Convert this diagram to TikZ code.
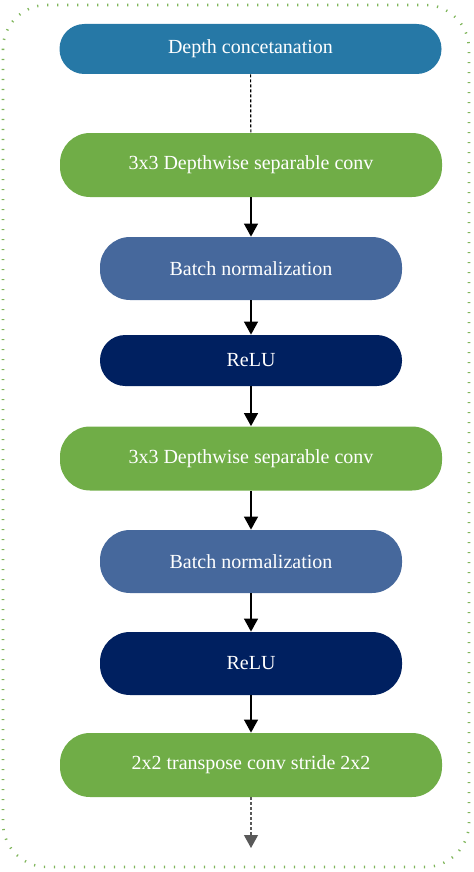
\documentclass[tikz,border=0pt]{standalone}
\usepackage{fontspec}
\setmainfont{Liberation Serif}
\usepackage{xcolor}
\usetikzlibrary{arrows.meta}
\definecolor{catblue}{HTML}{2678A6}
\definecolor{convgreen}{HTML}{70AD47}
\definecolor{normblue}{HTML}{46689C}
\definecolor{relunavy}{HTML}{002060}
\definecolor{dotgreen}{HTML}{7FB55A}
\definecolor{outgray}{HTML}{595959}
\tikzset{
  block/.style={draw=none, rounded corners=15pt, text=white, inner sep=0pt,
    font=\fontsize{10}{12}\selectfont},
  wide/.style={block, minimum width=191pt},
  narrow/.style={block, minimum width=151pt},
  concat/.style={wide, fill=catblue, minimum height=25pt, rounded corners=12.4pt},
  conv/.style={wide, fill=convgreen, minimum height=32pt},
  norm/.style={narrow, fill=normblue, minimum height=31.5pt},
  relu/.style={narrow, fill=relunavy},
  flow/.style={-{Triangle[width=7pt,length=6.5pt]}, line width=0.6pt},
  skip/.style={line width=0.6pt, dash pattern=on 1.5pt off 1pt},
  frame/.style={draw=dotgreen, line width=1.3pt, dash pattern=on 0.6pt off 4.4pt,
    rounded corners=22pt}
}

\begin{document}
\begin{tikzpicture}[x=0.5pt, y=-0.5pt]
  \useasboundingbox (0,0) rectangle (474,872);
  \draw[frame] (3,5) rectangle (469,867);

  \node[concat] (cat) at (250.5,49) {Depth concetanation};
  \node[conv] (conv1) at (251,165) {3x3 Depthwise separable conv};
  \node[norm] (bn1) at (251,268.5) {Batch normalization};
  \node[relu, minimum height=25.5pt, rounded corners=12.6pt] (relu1) at (251,360.5) {ReLU};
  \node[conv] (conv2) at (251,458.5) {3x3 Depthwise separable conv};
  \node[norm] (bn2) at (251,561.5) {Batch normalization};
  \node[relu, minimum height=31.5pt] (relu2) at (251,663.5) {ReLU};
  \node[conv] (up) at (251,765) {2x2 transpose conv stride 2x2};
  \coordinate (out) at (251,848);

  \draw[skip] (cat) -- (conv1);
  \draw[flow] (conv1) -- (bn1);
  \draw[flow] (bn1) -- (relu1);
  \draw[flow] (relu1) -- (conv2);
  \draw[flow] (conv2) -- (bn2);
  \draw[flow] (bn2) -- (relu2);
  \draw[flow] (relu2) -- (up);
  \draw[flow, skip, outgray] (up) -- (out);
\end{tikzpicture}
\end{document}
